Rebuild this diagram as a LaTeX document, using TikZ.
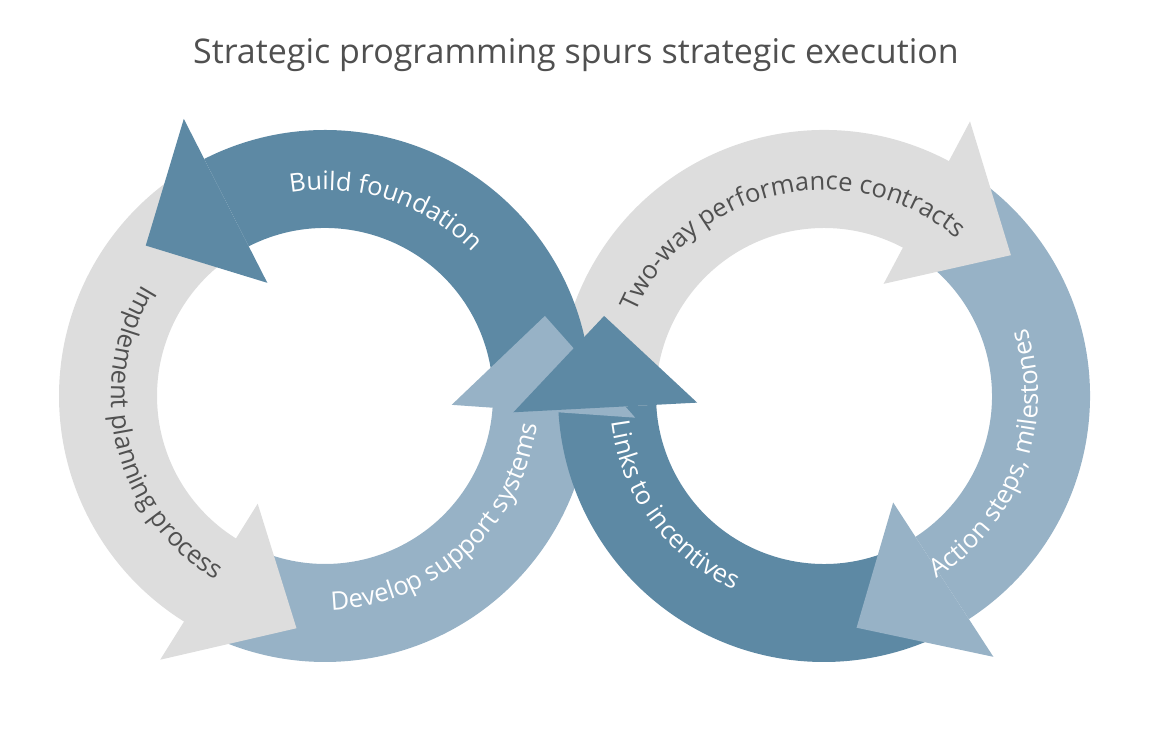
\documentclass[tikz,border=0pt]{standalone}
\usepackage{fontspec}
\setmainfont{Open Sans}
\usetikzlibrary{calc,decorations.text}
\definecolor{darkband}{HTML}{5D89A4}
\definecolor{lightband}{HTML}{97B2C6}
\definecolor{grayband}{HTML}{DDDDDD}
\definecolor{titlegray}{HTML}{505050}
\newcommand\ringband[4]{\fill[#4]($(#1)+(#2:266pt)$) arc[start angle=#2,end angle=#3,radius=266pt]
 --($(#1)+(#3:168pt)$) arc[start angle=#3,end angle=#2,radius=168pt]--cycle;}
\newcommand\ringhead[4]{\fill[#4]($(#1)+(#2:127pt)$)--($(#1)+(#2:311pt)$)--($(#1)+(#3:234pt)$)--cycle;}
\newcommand\ringtext[6]{\path[decorate,decoration={text along path,text align=center,
 text={|\fontsize{25.5}{30}\selectfont|#6},text color=#5}]($(#1)+(#2:#4pt)$) arc[start angle=#2,end angle=#3,radius=#4pt];}
\begin{document}
\begin{tikzpicture}[x=1pt,y=1pt]
\useasboundingbox(0,0)rectangle(1152,735);
\coordinate(lc)at(325,339);
\coordinate(rc)at(824,339);
%title
\node[text=titlegray,font=\fontsize{34}{38}\selectfont](title)at(576,680){Strategic programming spurs strategic execution};
%bands
\ringband{rc}{58}{186}{grayband}
\ringband{lc}{125}{240}{grayband}
\ringband{lc}{-3}{117}{darkband}
\ringband{lc}{243}{357}{lightband}
\ringband{rc}{-57}{59}{lightband}
\ringband{rc}{183}{300}{darkband}
%arrow heads
\ringhead{lc}{-122}{-97}{grayband}
\ringhead{rc}{62}{37}{grayband}
\ringhead{lc}{117}{140}{darkband}
\ringhead{lc}{-4}{20}{lightband}
\ringhead{rc}{-57}{-82}{lightband}
\ringhead{rc}{183}{160}{darkband}
%labels
\ringtext{lc}{122}{22}{206}{white}{Build foundation}
\ringtext{lc}{129}{259}{214}{titlegray}{Implement planning process}
\ringtext{lc}{252}{372}{214}{white}{Develop support systems}
\ringtext{rc}{173}{33}{206}{titlegray}{Two-way performance contracts}
\ringtext{rc}{-78}{38}{214}{white}{Action steps{,} milestones}
\ringtext{rc}{156}{276}{214}{white}{Links to incentives}
\end{tikzpicture}
\end{document}
